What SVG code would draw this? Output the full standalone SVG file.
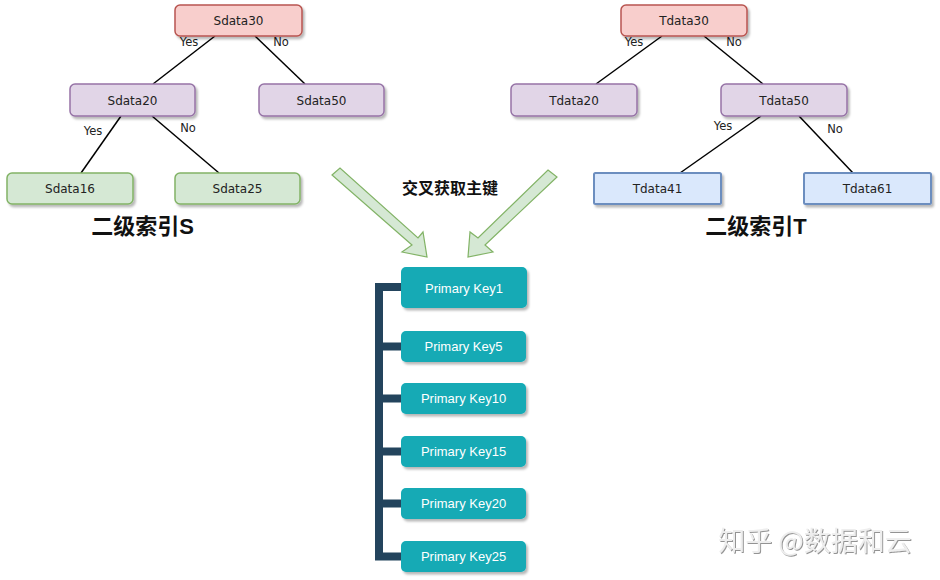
<svg xmlns="http://www.w3.org/2000/svg" width="940" height="580" viewBox="0 0 940 580">
<defs>
<filter id="sh" x="-10%" y="-10%" width="130%" height="140%"><feDropShadow dx="2" dy="2.5" stdDeviation="1" flood-color="#000" flood-opacity="0.28"/></filter>
<filter id="wm" x="-5%" y="-20%" width="115%" height="150%"><feDropShadow dx="1" dy="1" stdDeviation="0.6" flood-color="#777" flood-opacity="0.8"/></filter>
<style>
.n{stroke-width:1.5}
.red{fill:#f8cecc;stroke:#b85450}
.pur{fill:#e1d5e7;stroke:#9673a6}
.grn{fill:#d5e8d4;stroke:#82b366}
.blu{fill:#dae8fc;stroke:#6c8ebf;stroke-width:2}
.t{font-family:"DejaVu Sans",Verdana,sans-serif;font-size:12px;fill:#222;text-anchor:middle}
.l{font-family:"DejaVu Sans",Verdana,sans-serif;font-size:11.5px;fill:#222;text-anchor:middle}
.e{stroke:#000;stroke-width:1.5;fill:none}
.pk{fill:#12aab5}
.pt{font-family:"Liberation Sans",Arial,sans-serif;font-size:13px;fill:#fff;text-anchor:middle}
.h{font-family:"Liberation Sans","Noto Sans CJK SC",sans-serif;font-weight:bold;fill:#111;text-anchor:middle}
.ar{fill:#d5e8d4;stroke:#82b366;stroke-width:1.2}
.br{stroke:#23445d;stroke-width:8;fill:none}
</style>
</defs>

<g id="connectors">
<line class="e" x1="215" y1="36" x2="153" y2="84"/>
<line class="e" x1="255" y1="36" x2="305" y2="84"/>
<line class="e" x1="121" y1="116" x2="81" y2="173"/>
<line class="e" x1="152" y1="116" x2="219" y2="173"/>
<line class="e" x1="662" y1="36" x2="596" y2="84"/>
<line class="e" x1="704" y1="36" x2="763" y2="84"/>
<line class="e" x1="761" y1="116" x2="680" y2="173"/>
<line class="e" x1="799" y1="116" x2="853" y2="173"/>
<text class="l" x="189" y="46">Yes</text>
<text class="l" x="281" y="46">No</text>
<text class="l" x="93" y="135">Yes</text>
<text class="l" x="188" y="132">No</text>
<text class="l" x="634" y="46">Yes</text>
<text class="l" x="734" y="46">No</text>
<text class="l" x="723" y="130">Yes</text>
<text class="l" x="835" y="133">No</text>
<polygon class="ar" points="332,175 340,168 418,238 423,232 427,257 402,252 412,245"/>
<polygon class="ar" points="548,170 557,177 485,245 493,252 468,257 470,232 478,238"/>
<path class="br" d="M401,287 H379 V556.5 H401 M379,346.5 H401 M379,398.5 H401 M379,451.5 H401 M379,503.5 H401"/>
</g>

<g id="Sdata30"><rect class="n red" filter="url(#sh)" x="175" y="5" width="127" height="31" rx="5"/><text class="t" x="238.5" y="25">Sdata30</text></g>
<g id="Sdata20"><rect class="n pur" filter="url(#sh)" x="70" y="84" width="125" height="32" rx="5"/><text class="t" x="132.5" y="104.5">Sdata20</text></g>
<g id="Sdata50"><rect class="n pur" filter="url(#sh)" x="259" y="84" width="125" height="32" rx="5"/><text class="t" x="321.5" y="104.5">Sdata50</text></g>
<g id="Sdata16"><rect class="n grn" filter="url(#sh)" x="7" y="173" width="126" height="31" rx="5"/><text class="t" x="70" y="193">Sdata16</text></g>
<g id="Sdata25"><rect class="n grn" filter="url(#sh)" x="175" y="173" width="125" height="31" rx="5"/><text class="t" x="237.5" y="193">Sdata25</text></g>

<g id="Tdata30"><rect class="n red" filter="url(#sh)" x="621" y="5" width="126" height="31" rx="5"/><text class="t" x="684" y="25">Tdata30</text></g>
<g id="Tdata20"><rect class="n pur" filter="url(#sh)" x="511" y="84" width="126" height="32" rx="5"/><text class="t" x="574" y="104.5">Tdata20</text></g>
<g id="Tdata50"><rect class="n pur" filter="url(#sh)" x="721" y="84" width="126" height="32" rx="5"/><text class="t" x="784" y="104.5">Tdata50</text></g>
<g id="Tdata41"><rect class="blu" filter="url(#sh)" x="594" y="173" width="127" height="31" rx="1.5"/><text class="t" x="657.5" y="193">Tdata41</text></g>
<g id="Tdata61"><rect class="blu" filter="url(#sh)" x="804" y="173" width="127" height="31" rx="1.5"/><text class="t" x="867.5" y="193">Tdata61</text></g>

<g id="titleS"><text class="h" x="142.5" y="234" font-size="22">二级索引S</text></g>
<g id="titleT"><text class="h" x="756" y="234" font-size="22">二级索引T</text></g>
<g id="crossLabel"><text class="h" x="450" y="194" font-size="16">交叉获取主键</text></g>

<g id="PK1"><rect class="pk" filter="url(#sh)" x="401" y="267" width="126" height="41" rx="5"/><text class="pt" x="464" y="293" font-size="13.5">Primary Key1</text></g>
<g id="PK5"><rect class="pk" filter="url(#sh)" x="401" y="331" width="125" height="31" rx="5"/><text class="pt" x="463.5" y="351">Primary Key5</text></g>
<g id="PK10"><rect class="pk" filter="url(#sh)" x="401" y="383" width="125" height="31" rx="5"/><text class="pt" x="463.5" y="403">Primary Key10</text></g>
<g id="PK15"><rect class="pk" filter="url(#sh)" x="401" y="436" width="125" height="31" rx="5"/><text class="pt" x="463.5" y="456">Primary Key15</text></g>
<g id="PK20"><rect class="pk" filter="url(#sh)" x="401" y="488" width="125" height="31" rx="5"/><text class="pt" x="463.5" y="508">Primary Key20</text></g>
<g id="PK25"><rect class="pk" filter="url(#sh)" x="401" y="541" width="125" height="31" rx="5"/><text class="pt" x="463.5" y="561">Primary Key25</text></g>

<g id="watermark"><text x="815" y="551" filter="url(#wm)" font-family="'Noto Sans CJK SC',sans-serif" font-size="27" fill="#eeeeee" text-anchor="middle">知乎 @数据和云</text></g>
</svg>
